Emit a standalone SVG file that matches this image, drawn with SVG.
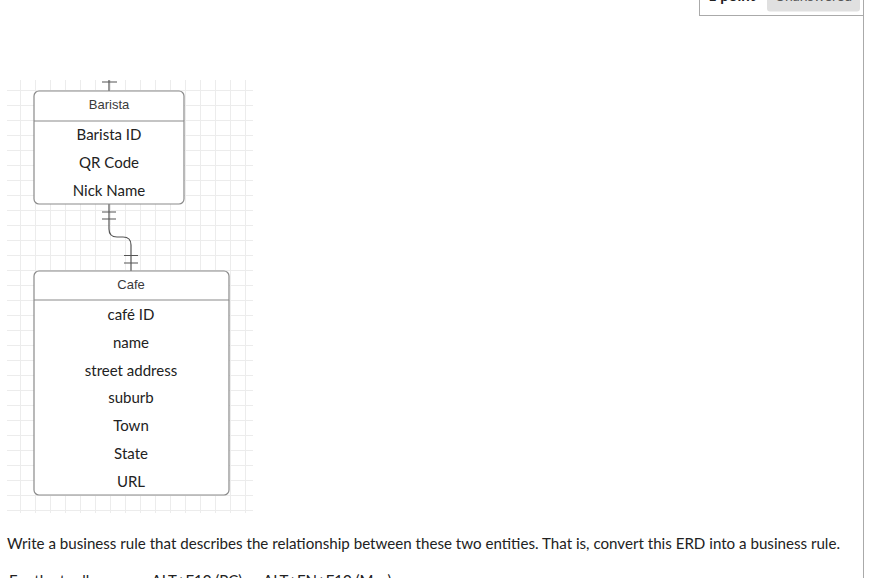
<svg xmlns="http://www.w3.org/2000/svg" width="873" height="578" viewBox="0 0 873 578">
<defs>
<pattern id="grid" x="5" y="0" width="15" height="15" patternUnits="userSpaceOnUse">
<path d="M0.5,0 V15 M0,0.5 H15" fill="none" stroke="#ececec" stroke-width="1"/>
</pattern>
<style>
.ent{fill:#fff;stroke:#8a8a8a;stroke-width:1.2}
.sep{stroke:#8a8a8a;stroke-width:1.2}
.hdr{font-family:"Liberation Sans",Arial,sans-serif;font-size:13px;fill:#3a3a3a;text-anchor:middle}
.att{font-family:Lato,"Open Sans",sans-serif;font-size:15px;fill:#222;text-anchor:middle}
.con{fill:none;stroke:#555;stroke-width:1.2}
.body{font-family:Lato,"Open Sans",sans-serif;font-size:15px;fill:#222}
</style>
</defs>
<rect width="873" height="578" fill="#fff"/>
<rect x="7" y="80" width="246" height="433" fill="url(#grid)"/>
<g id="top-ui">
<rect x="699.5" y="-10" width="164" height="25.5" fill="#fff" stroke="#aaa" stroke-width="1"/>
<rect x="767" y="-10" width="93" height="21.5" rx="3" fill="#e0e0e0"/>
<text x="708" y="1" font-family="Lato,sans-serif" font-size="15" font-weight="bold" fill="#222">1 point</text>
<text x="813.5" y="1" font-family="Lato,sans-serif" font-size="14" fill="#555" text-anchor="middle">Unanswered</text>
<line x1="863.5" y1="15" x2="863.5" y2="578" stroke="#aaa" stroke-width="1"/>
</g>
<g id="connectors">
<path class="con" d="M109,80 V91 M102,82 H117"/>
<path class="con" d="M109,204 V229 Q109,237 117,237 H123 Q131,237 131,245 V271"/>
<path class="con" d="M102,212 H116 M102,219 H116 M124,255.5 H138 M124,263 H138"/>
</g>
<g id="barista">
<rect class="ent" x="34" y="91" width="150" height="113" rx="5"/>
<line class="sep" x1="34" y1="121" x2="184" y2="121"/>
<text class="hdr" x="109" y="108.5">Barista</text>
<text class="att" x="109" y="139.5">Barista ID</text>
<text class="att" x="109" y="168">QR Code</text>
<text class="att" x="109" y="196">Nick Name</text>
</g>
<g id="cafe">
<rect class="ent" x="34" y="271" width="195" height="224" rx="5"/>
<line class="sep" x1="34" y1="300" x2="229" y2="300"/>
<text class="hdr" x="131" y="288.5">Cafe</text>
<text class="att" x="131" y="320">café ID</text>
<text class="att" x="131" y="348">name</text>
<text class="att" x="131" y="376">street address</text>
<text class="att" x="131" y="403">suburb</text>
<text class="att" x="131" y="431">Town</text>
<text class="att" x="131" y="459">State</text>
<text class="att" x="131" y="487">URL</text>
</g>
<text class="body" x="7" y="549" textLength="833" lengthAdjust="spacingAndGlyphs">Write a business rule that describes the relationship between these two entities. That is, convert this ERD into a business rule.</text>
<text class="body" x="9" y="586">For the toolbar, press ALT+F10 (PC) or ALT+FN+F10 (Mac).</text>
</svg>
